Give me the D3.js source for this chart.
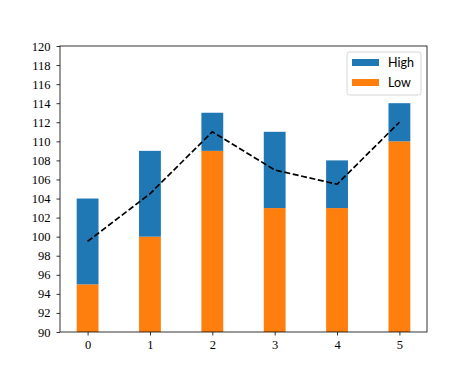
<!DOCTYPE html>
<html>
<head>
<meta charset="utf-8">
<script src="https://cdn.jsdelivr.net/npm/d3@7.9.0/dist/d3.min.js"></script>
<style>
  body { margin: 0; background: #fff; }
  .tick text { font-family: "Liberation Serif", "DejaVu Serif", serif; font-size: 12.5px; fill: #000; }
</style>
</head>
<body>
<svg id="chart" width="474" height="379"></svg>
<script>
// data
const categories = [0, 1, 2, 3, 4, 5];
const lowValues = [95, 100, 109, 103, 103, 110];
const highValues = [104, 109, 113, 111, 108, 114];
const midValues = [99.5, 104.5, 111, 107, 105.5, 112];
const yTicks = d3.range(90, 121, 2);
const seriesNames = ["High", "Low"];
const seriesColors = ["#1f77b4", "#ff7f0e"];

const svg = d3.select("#chart");
const margin = { left: 60, right: 47, top: 46, bottom: 47 };
const width = 474 - margin.left - margin.right;
const height = 379 - margin.top - margin.bottom;

const barWidth = 0.35;
const x = d3.scaleLinear().domain([-0.4425, 5.4425]).range([0, width]);
const y = d3.scaleLinear().domain([90, 120]).range([height, 0]);

const g = svg.append("g").attr("transform", `translate(${margin.left},${margin.top})`);

// stacked bars: low from 90, high from low
g.selectAll(".low").data(categories).join("rect")
  .attr("class", "low")
  .attr("x", d => x(d - barWidth / 2))
  .attr("width", x(barWidth) - x(0))
  .attr("y", (d, i) => y(lowValues[i]))
  .attr("height", (d, i) => y(90) - y(lowValues[i]))
  .attr("fill", seriesColors[1]);

g.selectAll(".high").data(categories).join("rect")
  .attr("class", "high")
  .attr("x", d => x(d - barWidth / 2))
  .attr("width", x(barWidth) - x(0))
  .attr("y", (d, i) => y(highValues[i]))
  .attr("height", (d, i) => y(lowValues[i]) - y(highValues[i]))
  .attr("fill", seriesColors[0]);

// dashed midpoint line
const line = d3.line().x((d, i) => x(categories[i])).y(d => y(d));
g.append("path")
  .datum(midValues)
  .attr("d", line)
  .attr("fill", "none")
  .attr("stroke", "#000")
  .attr("stroke-width", 1.7)
  .attr("stroke-dasharray", "6,2.6");

// axes
const xAxis = d3.axisBottom(x).tickValues(categories).tickSize(3.5).tickPadding(5).tickFormat(d3.format("d"));
const yAxis = d3.axisLeft(y).tickValues(yTicks).tickSize(3.5).tickPadding(6);

g.append("g").attr("transform", `translate(0,${height})`).call(xAxis)
  .call(a => a.select(".domain").remove());
g.append("g").call(yAxis)
  .call(a => a.select(".domain").remove());
g.selectAll(".tick line").attr("stroke", "#000").attr("stroke-width", 0.8);

// frame
g.append("rect")
  .attr("width", width).attr("height", height)
  .attr("fill", "none").attr("stroke", "#000").attr("stroke-width", 0.8);

// legend
const legend = g.append("g").attr("transform", `translate(${width - 80},6)`);
legend.append("rect")
  .attr("width", 74).attr("height", 43).attr("rx", 2.5)
  .attr("fill", "#fff").attr("fill-opacity", 0.8)
  .attr("stroke", "#ccc").attr("stroke-width", 0.8);
seriesNames.forEach((name, i) => {
  const row = legend.append("g").attr("transform", `translate(5,${7 + i * 20})`);
  row.append("rect").attr("width", 27).attr("height", 7).attr("fill", seriesColors[i]);
  row.append("text").attr("x", 36).attr("y", 8)
    .attr("font-family", "Lato, 'DejaVu Sans', sans-serif").attr("font-size", 12.5)
    .text(name);
});
</script>
</body>
</html>
